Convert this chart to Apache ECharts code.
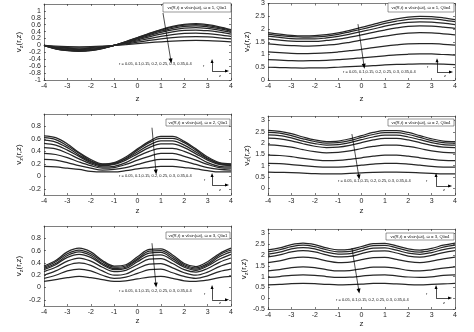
<!DOCTYPE html>
<html><head><meta charset="utf-8">
<script src="https://cdn.jsdelivr.net/npm/echarts@6/dist/echarts.min.js"></script>
<style>html,body{margin:0;padding:0;background:#fff}#c{width:474px;height:332px}</style>
</head><body><div id="c"></div><script>
// axial coordinate samples shared by every panel
const zValues = [-4,-3.5,-3,-2.5,-2,-1.5,-1,-0.5,0,0.5,1,1.5,2,2.5,3,3.5,4];
const rValues = [0.05,0.1,0.15,0.2,0.25,0.3,0.35,0.4];
const xTicks = [-4,-3,-2,-1,0,1,2,3,4];

// omega = 1, Q0 = 1
const velW1Q1 = [
  [0,-0.10,-0.15,-0.17,-0.15,-0.09,0,0.11,0.23,0.35,0.46,0.55,0.61,0.63,0.60,0.54,0.46],
  [0,-0.096,-0.144,-0.163,-0.144,-0.086,0,0.106,0.221,0.336,0.442,0.528,0.586,0.605,0.576,0.518,0.442],
  [0,-0.09,-0.135,-0.153,-0.135,-0.081,0,0.099,0.207,0.315,0.414,0.495,0.549,0.567,0.54,0.486,0.414],
  [0,-0.082,-0.123,-0.139,-0.123,-0.074,0,0.09,0.189,0.287,0.377,0.451,0.50,0.517,0.492,0.443,0.377],
  [0,-0.071,-0.107,-0.121,-0.107,-0.064,0,0.078,0.163,0.249,0.327,0.391,0.433,0.447,0.426,0.383,0.327],
  [0,-0.057,-0.086,-0.097,-0.086,-0.051,0,0.063,0.131,0.20,0.262,0.314,0.348,0.359,0.342,0.308,0.262],
  [0,-0.041,-0.062,-0.07,-0.062,-0.037,0,0.045,0.094,0.144,0.189,0.226,0.25,0.258,0.246,0.221,0.189],
  [0,-0.023,-0.035,-0.039,-0.035,-0.021,0,0.025,0.053,0.081,0.106,0.127,0.14,0.145,0.138,0.124,0.106]
];
// omega = 1, Q0 = 4
const velW1Q4 = [
  [1.86,1.80,1.75,1.73,1.74,1.78,1.85,1.95,2.06,2.18,2.30,2.40,2.47,2.50,2.49,2.44,2.37],
  [1.80,1.74,1.70,1.68,1.69,1.72,1.79,1.89,1.99,2.10,2.22,2.31,2.38,2.41,2.40,2.35,2.29],
  [1.72,1.67,1.62,1.61,1.61,1.65,1.71,1.80,1.90,2.00,2.11,2.20,2.26,2.28,2.27,2.23,2.17],
  [1.61,1.56,1.52,1.51,1.51,1.55,1.60,1.68,1.77,1.87,1.96,2.04,2.10,2.12,2.11,2.07,2.02],
  [1.42,1.38,1.35,1.33,1.34,1.37,1.41,1.48,1.56,1.64,1.72,1.79,1.84,1.86,1.85,1.81,1.77],
  [1.10,1.07,1.04,1.03,1.04,1.06,1.10,1.15,1.20,1.27,1.33,1.38,1.42,1.43,1.43,1.40,1.37],
  [0.80,0.78,0.76,0.75,0.76,0.77,0.80,0.83,0.87,0.91,0.95,0.99,1.01,1.02,1.02,1.00,0.98],
  [0.50,0.49,0.48,0.47,0.48,0.48,0.50,0.52,0.54,0.56,0.59,0.61,0.62,0.63,0.63,0.62,0.60]
];
// omega = 2, Q0 = 1
const velW2Q1 = [
  [0.65,0.62,0.52,0.38,0.27,0.20,0.22,0.31,0.44,0.56,0.64,0.64,0.56,0.44,0.31,0.22,0.20],
  [0.62,0.59,0.49,0.37,0.25,0.19,0.21,0.29,0.42,0.54,0.61,0.61,0.54,0.42,0.29,0.21,0.19],
  [0.58,0.55,0.46,0.34,0.24,0.18,0.20,0.28,0.39,0.50,0.57,0.57,0.50,0.39,0.28,0.20,0.18],
  [0.53,0.50,0.42,0.32,0.22,0.17,0.19,0.26,0.36,0.46,0.52,0.52,0.46,0.36,0.26,0.19,0.17],
  [0.46,0.44,0.37,0.28,0.20,0.15,0.16,0.22,0.32,0.40,0.45,0.45,0.40,0.32,0.22,0.16,0.15],
  [0.37,0.35,0.30,0.23,0.17,0.13,0.14,0.19,0.26,0.32,0.37,0.37,0.32,0.26,0.19,0.14,0.13],
  [0.27,0.26,0.22,0.17,0.13,0.10,0.11,0.14,0.19,0.24,0.27,0.27,0.24,0.19,0.14,0.11,0.10],
  [0.16,0.15,0.13,0.11,0.08,0.07,0.07,0.09,0.12,0.14,0.16,0.16,0.14,0.12,0.09,0.07,0.07]
];
// omega = 2, Q0 = 4
const velW2Q4 = [
  [2.56,2.52,2.42,2.27,2.14,2.07,2.09,2.19,2.33,2.47,2.55,2.55,2.47,2.33,2.19,2.09,2.07],
  [2.47,2.44,2.33,2.19,2.07,2.00,2.02,2.11,2.25,2.38,2.46,2.46,2.38,2.25,2.11,2.02,2.00],
  [2.36,2.33,2.23,2.09,1.98,1.91,1.93,2.02,2.15,2.27,2.35,2.35,2.27,2.15,2.02,1.93,1.91],
  [2.22,2.19,2.10,1.97,1.86,1.80,1.82,1.90,2.02,2.14,2.21,2.21,2.14,2.02,1.90,1.82,1.80],
  [1.92,1.89,1.82,1.71,1.62,1.57,1.59,1.65,1.76,1.85,1.91,1.91,1.85,1.76,1.65,1.59,1.57],
  [1.47,1.45,1.40,1.32,1.26,1.22,1.23,1.28,1.35,1.42,1.47,1.47,1.42,1.35,1.28,1.23,1.22],
  [1.10,1.09,1.05,1.00,0.96,0.93,0.94,0.97,1.02,1.07,1.10,1.10,1.07,1.02,0.97,0.94,0.93],
  [0.71,0.70,0.69,0.67,0.65,0.64,0.64,0.66,0.68,0.70,0.71,0.71,0.70,0.68,0.66,0.64,0.64]
];
// omega = 3, Q0 = 1
const velW3Q1 = [
  [0.35,0.44,0.58,0.64,0.58,0.44,0.35,0.37,0.50,0.62,0.63,0.53,0.39,0.34,0.42,0.55,0.64],
  [0.33,0.42,0.55,0.61,0.55,0.42,0.33,0.35,0.47,0.59,0.60,0.50,0.37,0.32,0.39,0.53,0.61],
  [0.31,0.39,0.52,0.58,0.52,0.39,0.31,0.33,0.45,0.56,0.57,0.47,0.35,0.30,0.37,0.50,0.58],
  [0.29,0.37,0.49,0.54,0.49,0.37,0.29,0.31,0.42,0.52,0.53,0.44,0.33,0.28,0.35,0.46,0.54],
  [0.26,0.33,0.43,0.48,0.43,0.33,0.26,0.28,0.37,0.46,0.47,0.39,0.29,0.25,0.31,0.41,0.48],
  [0.20,0.27,0.36,0.40,0.36,0.27,0.20,0.22,0.31,0.38,0.39,0.32,0.24,0.20,0.25,0.34,0.40],
  [0.15,0.20,0.27,0.30,0.27,0.20,0.15,0.17,0.23,0.29,0.30,0.24,0.18,0.15,0.19,0.26,0.30],
  [0.10,0.13,0.16,0.18,0.16,0.13,0.10,0.11,0.14,0.17,0.18,0.15,0.11,0.10,0.12,0.16,0.18]
];
// omega = 3, Q0 = 4
const velW3Q4 = [
  [2.23,2.33,2.48,2.55,2.48,2.33,2.23,2.26,2.39,2.52,2.54,2.42,2.28,2.22,2.30,2.45,2.55],
  [2.14,2.24,2.38,2.45,2.38,2.24,2.14,2.16,2.30,2.43,2.44,2.33,2.19,2.13,2.21,2.36,2.45],
  [2.04,2.13,2.28,2.34,2.28,2.13,2.04,2.06,2.19,2.32,2.33,2.22,2.08,2.03,2.11,2.25,2.34],
  [1.91,2.00,2.14,2.20,2.14,2.00,1.91,1.93,2.06,2.18,2.19,2.09,1.95,1.90,1.98,2.11,2.20],
  [1.65,1.73,1.85,1.90,1.85,1.73,1.65,1.67,1.78,1.88,1.89,1.80,1.69,1.64,1.71,1.82,1.90],
  [1.26,1.32,1.41,1.45,1.41,1.32,1.26,1.28,1.36,1.44,1.44,1.38,1.29,1.26,1.31,1.39,1.45],
  [0.96,1.00,1.06,1.08,1.06,1.00,0.96,0.97,1.02,1.07,1.08,1.03,0.98,0.96,0.99,1.05,1.08],
  [0.62,0.64,0.67,0.68,0.67,0.64,0.62,0.63,0.65,0.68,0.68,0.66,0.63,0.62,0.64,0.66,0.68]
];

const yTicksP1 = [-1,-0.8,-0.6,-0.4,-0.2,0,0.2,0.4,0.6,0.8,1];
const yTicksP2 = [0,0.5,1,1.5,2,2.5,3];
const yTicksP3 = [-0.2,0,0.2,0.4,0.6,0.8];
const yTicksP4 = [0,0.5,1,1.5,2,2.5,3];
const yTicksP5 = [-0.2,0,0.2,0.4,0.6,0.8];
const yTicksP6 = [-0.5,0,0.5,1,1.5,2,2.5,3];
const omegaValues = [1,1,2,2,3,3];
const q0Values = [1,4,1,4,1,4];

const FONT = 'Liberation Sans, Arial, sans-serif';
const INK = '#262626';
const CURVE = '#262626';

// panel frames and annotation anchors (annotation arrows in data units)
const panels = [
  {data: velW1Q1, ticks: yTicksP1, ymin: -1, ymax: 1.2, box: {left:44, top:4, width:187, height:76}, zGap: 15,
   arrow: [[1.09,0.94],[1.43,-0.45]], glyph: [3.19,-0.74,-0.45,3.83], note: [119,64], tag: [163,3,68,9], rz: [[203,66],[219,76]]},
  {data: velW1Q4, ticks: yTicksP2, ymin: 0, ymax: 3, box: {left:268, top:2, width:187, height:78}, zGap: 15,
   arrow: [[-0.15,2.19],[0.11,0.54]], glyph: [3.23,0.31,0.77,3.83], note: [343,72], tag: [388,3,66,9], rz: [[427,67],[444,76]]},
  {data: velW2Q1, ticks: yTicksP3, ymin: -0.3, ymax: 1, box: {left:44, top:114, width:187, height:81}, zGap: 12,
   arrow: [[0.62,0.78],[0.79,0.07]], glyph: [3.19,-0.14,0.02,3.83], note: [119,176], tag: [166,119,64,7], rz: [[204,180],[219,190]]},
  {data: velW2Q4, ticks: yTicksP4, ymin: -0.3, ymax: 3.2, box: {left:268, top:116, width:187, height:79}, zGap: 12,
   arrow: [[-0.41,2.40],[-0.11,0.50]], glyph: [3.19,0.10,0.59,3.79], note: [338,181], tag: [388,119,66,7], rz: [[426,181],[443,190]]},
  {data: velW3Q1, ticks: yTicksP5, ymin: -0.3, ymax: 1, box: {left:44, top:226, width:187, height:80}, zGap: 11,
   arrow: [[0.62,0.72],[0.79,0.04]], glyph: [3.19,-0.20,0.01,3.83], note: [119,291], tag: [166,232,64,7], rz: [[204,294],[219,303]]},
  {data: velW3Q4, ticks: yTicksP6, ymin: -0.5, ymax: 3.2, box: {left:268, top:229, width:187, height:80}, zGap: 11,
   arrow: [[-0.41,2.32],[-0.11,0.33]], glyph: [3.19,0.01,0.52,3.79], note: [336,300], tag: [386,233,68,7], rz: [[426,294],[443,303]]}
];

const grid = [], xAxis = [], yAxis = [], series = [], graphic = [];
const tickStyle = {show: true, inside: true, length: 2, lineStyle: {color: INK, width: 0.6}};
const lineStyleAxis = {show: true, onZero: false, lineStyle: {color: INK, width: 0.6}};

panels.forEach((p, g) => {
  grid.push(Object.assign({containLabel: false}, p.box));
  // bottom and top z axes
  xAxis.push({gridIndex: g, type: 'value', min: -4, max: 4, interval: 1, position: 'bottom',
    axisLine: lineStyleAxis, axisTick: tickStyle, splitLine: {show: false},
    axisLabel: {fontSize: 7, color: INK, fontFamily: FONT, margin: 3},
    name: 'z', nameLocation: 'middle', nameGap: p.zGap,
    nameTextStyle: {fontSize: 8, color: INK, fontFamily: FONT}});
  xAxis.push({gridIndex: g, type: 'value', min: -4, max: 4, interval: 1, position: 'top',
    axisLine: lineStyleAxis, axisTick: tickStyle, axisLabel: {show: false}, splitLine: {show: false}});
  // left and right velocity axes
  yAxis.push({gridIndex: g, type: 'value', min: p.ymin, max: p.ymax, position: 'left',
    axisLine: lineStyleAxis, splitLine: {show: false},
    axisTick: Object.assign({customValues: p.ticks}, tickStyle),
    axisLabel: {customValues: p.ticks, fontSize: 7, color: INK, fontFamily: FONT, margin: 3},
    name: '{a|v}{s|z}{a|(r,z)}', nameLocation: 'middle', nameGap: g % 2 === 0 ? 20 : 16,
    nameTextStyle: {fontFamily: FONT, rich: {a: {fontSize: 8, color: INK, fontFamily: FONT},
      s: {fontSize: 5.5, color: INK, fontFamily: FONT, padding: [4, 0, 0, 0]}}}});
  yAxis.push({gridIndex: g, type: 'value', min: p.ymin, max: p.ymax, position: 'right',
    axisLine: lineStyleAxis, splitLine: {show: false},
    axisTick: Object.assign({customValues: p.ticks}, tickStyle), axisLabel: {show: false}});

  p.data.forEach((vals, i) => {
    const s = {
      type: 'line', name: 'r=' + rValues[i], xAxisIndex: 2 * g, yAxisIndex: 2 * g,
      data: zValues.map((z, k) => [z, vals[k]]), smooth: 0.35, showSymbol: false,
      lineStyle: {color: CURVE, width: 1.25}, silent: true
    };
    if (i === 0) {
      s.markLine = {
        symbol: ['none', 'triangle'], animation: false,
        lineStyle: {color: '#000', width: 0.7, type: 'solid'}, label: {show: false}, silent: true,
        emphasis: {disabled: true},
        data: [
          [{coord: p.arrow[0]}, {coord: p.arrow[1], symbolSize: [4, 5]}],
          [{coord: [p.glyph[0], p.glyph[1]]}, {coord: [p.glyph[0], p.glyph[2]], symbolSize: [3, 4]}],
          [{coord: [p.glyph[0], p.glyph[1]]}, {coord: [p.glyph[3], p.glyph[1]], symbolSize: [3, 4]}]
        ]
      };
    }
    series.push(s);
  });

  // boxed caption with the boundary condition
  const [tx, ty, tw, th] = p.tag;
  graphic.push({type: 'rect', shape: {x: tx, y: ty, width: tw, height: th},
    style: {fill: '#fff', stroke: '#333', lineWidth: 0.5}, z: 10});
  graphic.push({type: 'text', x: tx + tw / 2, y: ty + th / 2, z: 11,
    style: {text: '{a|v}{s|z}{a|(R,t) = v}{s|0}{a|sin(ωt), ω = ' + omegaValues[g] + ', Q}{s|0}{a|=' + q0Values[g] + '}',
      align: 'center', verticalAlign: 'middle', fontFamily: FONT,
      rich: {a: {fontSize: 4.3, fill: '#111', fontFamily: FONT}, s: {fontSize: 3, fill: '#111', fontFamily: FONT, padding: [2, 0, 0, 0]}}}});
  // list of radii the arrow runs through
  graphic.push({type: 'text', x: p.note[0], y: p.note[1], z: 11,
    style: {text: 'r = 0.05, 0.1,0.15, 0.2, 0.25, 0.3, 0.35,0.4', fontSize: 4, fill: '#111',
      fontFamily: FONT, verticalAlign: 'middle'}});
  // r / z direction labels
  graphic.push({type: 'text', x: p.rz[0][0], y: p.rz[0][1], z: 11,
    style: {text: 'r', fontSize: 4, fill: '#111', fontFamily: FONT, verticalAlign: 'middle'}});
  graphic.push({type: 'text', x: p.rz[1][0], y: p.rz[1][1], z: 11,
    style: {text: 'z', fontSize: 4, fill: '#111', fontFamily: FONT, verticalAlign: 'middle'}});
});

const chart = echarts.init(document.getElementById('c'), null, {renderer: 'canvas'});
chart.setOption({animation: false, backgroundColor: '#fff', grid, xAxis, yAxis, series, graphic});
</script></body></html>
